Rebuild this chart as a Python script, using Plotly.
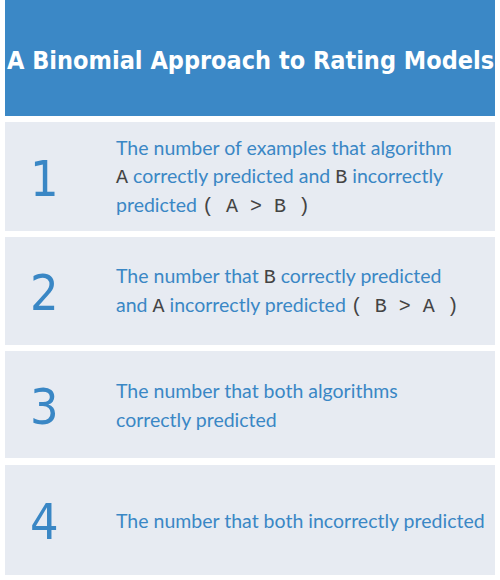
import plotly.graph_objects as go

title = "A Binomial Approach to Rating Models"
numbers = ["1", "2", "3", "4"]
mono = '<span style="font-family:Liberation Mono;color:#444444;font-size:20px">%s</span>'
lines = [
    ["The number of examples that algorithm",
     mono % "A" + " correctly predicted and " + mono % "B" + " incorrectly",
     "predicted " + mono % "( A > B )"],
    ["The number that " + mono % "B" + " correctly predicted",
     "and " + mono % "A" + " incorrectly predicted " + mono % "( B > A )"],
    ["The number that both algorithms",
     "correctly predicted"],
    ["The number that both incorrectly predicted"],
]
panel_top = [122, 237, 351, 465]
panel_bottom = [231, 345, 458, 575]
line_gap = 29

blue = "#3a87c5"
fig = go.Figure()
shapes = [dict(type="rect", x0=5, x1=495, y0=0, y1=116, fillcolor="#3b88c6", line_width=0, layer="below")]
ann = [dict(x=250, y=60, text="<b>" + title + "</b>", showarrow=False,
            font=dict(family="DejaVu Sans Condensed", size=25, color="white"))]
for n, ls, t, b in zip(numbers, lines, panel_top, panel_bottom):
    shapes.append(dict(type="rect", x0=5, x1=495, y0=t, y1=b, fillcolor="#e7ebf2", line_width=0, layer="below"))
    mid = (t + b) / 2
    ann.append(dict(x=44, y=mid + 2, text=n, showarrow=False,
                    font=dict(family="DejaVu Sans Condensed", size=50, color=blue)))
    start = mid - line_gap * (len(ls) - 1) / 2
    for i, l in enumerate(ls):
        ann.append(dict(x=114, y=start + i * line_gap, text=l, showarrow=False, xanchor="left",
                        font=dict(family="Lato", size=19.5, color=blue)))

fig.update_layout(width=500, height=580, margin=dict(l=0, r=0, t=0, b=0),
                  paper_bgcolor="white", plot_bgcolor="white", shapes=shapes, annotations=ann,
                  xaxis=dict(range=[0, 500], visible=False, fixedrange=True),
                  yaxis=dict(range=[580, 0], visible=False, fixedrange=True))
fig.write_html("out.html", config={"displayModeBar": False},
               post_script="document.body.style.margin='0';")
